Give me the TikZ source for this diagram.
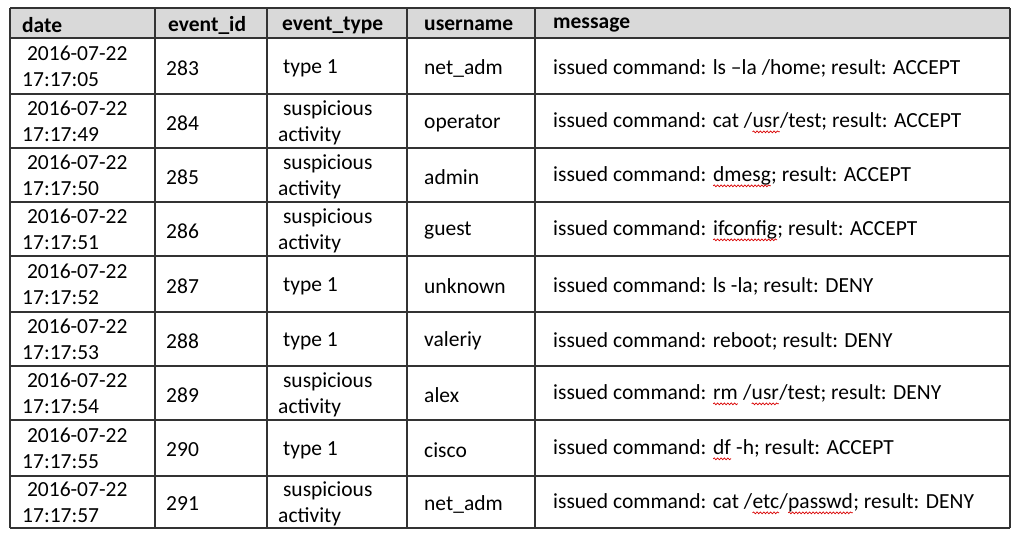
\documentclass[tikz,border=0pt]{standalone}
\usepackage{fontspec}
\setmainfont{Carlito}
\usetikzlibrary{decorations.pathmorphing}
\newcommand\sq[1]{\tikz[baseline=0pt]{\node[anchor=base west,inner sep=0pt,outer sep=0pt](w) at (0,0){#1};\draw[red!85!black,line width=0.7pt,decorate,decoration={snake,amplitude=0.9pt,segment length=3.4pt}] (0,-4pt)--(w.base east|-0,-4pt);}}
\begin{document}
\begin{tikzpicture}[x=1pt,y=-1pt,
  cell/.style={anchor=west,inner sep=0pt,font=\fontsize{21.5}{26}\selectfont,align=left},
  hcell/.style={cell,font=\fontsize{21.5}{26}\selectfont\bfseries},
  grid/.style={line width=1.1pt,black!80}]
\useasboundingbox (0,0) rectangle (1026,533);
\fill[black!15] (10,8) rectangle (1010,38);
\foreach \y in {8,38,94,148,202,256,312,366,420,476,528} \draw[grid] (10,\y)--(1010,\y);
\foreach \x in {10,155,267,407,535,1010} \draw[grid] (\x,8)--(\x,528);
\node[hcell] (h1) at (22,25) {date};
\node[hcell] (h2) at (168,25) {event\_id};
\node[hcell] (h3) at (282,25) {event\_type};
\node[hcell] (h4) at (424,25) {username};
\node[hcell] (h5) at (553,25) {message};
\foreach \i/\yc/\t/\id/\ty/\u/\m in {
 0/66/05/283/{\ type 1}/net\_adm/{issued command: ls –la /home; result: ACCEPT},
 1/121/49/284/{\ suspicious\\activity}/operator/{issued command: cat /\sq{usr}/test; result: ACCEPT},
 2/175/50/285/{\ suspicious\\activity}/admin/{issued command: \sq{dmesg}; result: ACCEPT},
 3/229/51/286/{\ suspicious\\activity}/guest/{issued command: \sq{ifconfig}; result: ACCEPT},
 4/284/52/287/{\ type 1}/unknown/{issued command: ls -la; result: DENY},
 5/339/53/288/{\ type 1}/valeriy/{issued command: reboot; result: DENY},
 6/393/54/289/{\ suspicious\\activity}/alex/{issued command: \sq{rm} /\sq{usr}/test; result: DENY},
 7/448/55/290/{\ type 1}/cisco/{issued command: \sq{df} -h; result: ACCEPT},
 8/502/57/291/{\ suspicious\\activity}/net\_adm/{issued command: cat /\sq{etc}/\sq{passwd}; result: DENY}}{
  \node[cell] (d\i) at (22,\yc) {\ 2016-07-22\\17:17:\t};
  \node[cell] (e\i) at (166,\yc+2) {\id};
  \node[cell] (t\i) at (278,\yc+2) {\ty};
  \node[cell] (u\i) at (424,\yc+2) {\u};
  \node[cell] (m\i) at (553,\yc+2) {\m};
}
\end{tikzpicture}
\end{document}
